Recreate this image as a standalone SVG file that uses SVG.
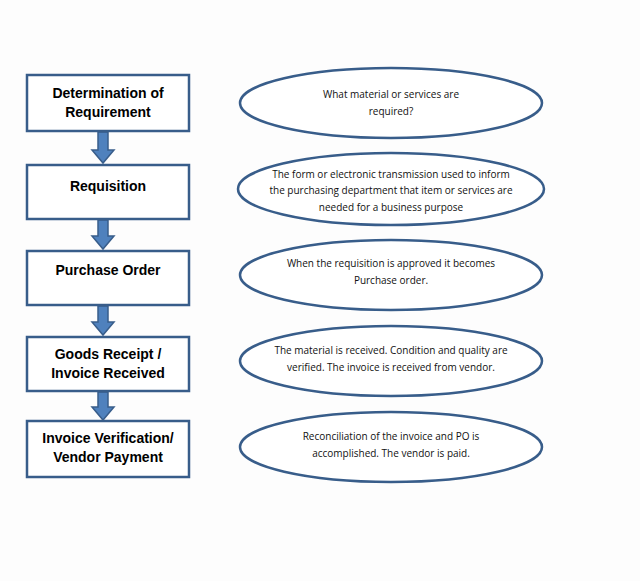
<svg xmlns="http://www.w3.org/2000/svg" width="640" height="581" viewBox="0 0 640 581">
<style>
.box{fill:#fff;stroke:#385d8a;stroke-width:2.5}
.ell{fill:#fff;stroke:#385d8a;stroke-width:2.5}
.arr{fill:#4f81bd;stroke:#385d8a;stroke-width:1.5}
.t{font-family:"Liberation Sans",Arial,sans-serif;font-weight:bold;font-size:14px;text-anchor:middle;fill:#000}
.s{font-family:"Open Sans","Liberation Sans",sans-serif;font-size:10px;text-anchor:middle;fill:#111}
</style>
<rect width="640" height="581" fill="#fdfdfd"/>
<g id="connectors">
<polygon class="arr" points="98,132 108,132 108,150 114,150 103,163 92,150 98,150"/>
<polygon class="arr" points="98,220 108,220 108,236 114,236 103,249 92,236 98,236"/>
<polygon class="arr" points="98,306 108,306 108,322 114,322 103,335 92,322 98,322"/>
<polygon class="arr" points="98,392 108,392 108,407 114,407 103,420 92,407 98,407"/>
</g>
<g id="n1"><rect class="box" x="27" y="75" width="162" height="56"/><text class="t" x="108" y="98">Determination of</text><text class="t" x="108" y="117">Requirement</text></g>
<g id="n2"><rect class="box" x="27" y="165" width="162" height="54"/><text class="t" x="108" y="191">Requisition</text></g>
<g id="n3"><rect class="box" x="27" y="251" width="162" height="54"/><text class="t" x="108" y="275">Purchase Order</text></g>
<g id="n4"><rect class="box" x="27" y="337" width="162" height="54"/><text class="t" x="108" y="359">Goods Receipt /</text><text class="t" x="108" y="378">Invoice Received</text></g>
<g id="n5"><rect class="box" x="27" y="421" width="162" height="56"/><text class="t" x="108" y="443">Invoice Verification/</text><text class="t" x="108" y="462">Vendor Payment</text></g>
<g id="e1"><ellipse class="ell" cx="391" cy="103" rx="151" ry="35"/><text class="s" x="391" y="98">What material or services are</text><text class="s" x="391" y="115">required?</text></g>
<g id="e2"><ellipse class="ell" cx="391" cy="189" rx="153" ry="36"/><text class="s" x="391" y="178">The form or electronic transmission used to inform</text><text class="s" x="391" y="194">the purchasing department that item or services are</text><text class="s" x="391" y="211">needed for a business purpose</text></g>
<g id="e3"><ellipse class="ell" cx="391" cy="275" rx="151" ry="35"/><text class="s" x="391" y="267">When the requisition is approved it becomes</text><text class="s" x="391" y="284">Purchase order.</text></g>
<g id="e4"><ellipse class="ell" cx="391" cy="361" rx="151" ry="35"/><text class="s" x="391" y="354">The material is received. Condition and quality are</text><text class="s" x="391" y="371">verified. The invoice is received from vendor.</text></g>
<g id="e5"><ellipse class="ell" cx="391" cy="447" rx="151" ry="35"/><text class="s" x="391" y="440">Reconciliation of the invoice and PO is</text><text class="s" x="391" y="457">accomplished. The vendor is paid.</text></g>
</svg>
